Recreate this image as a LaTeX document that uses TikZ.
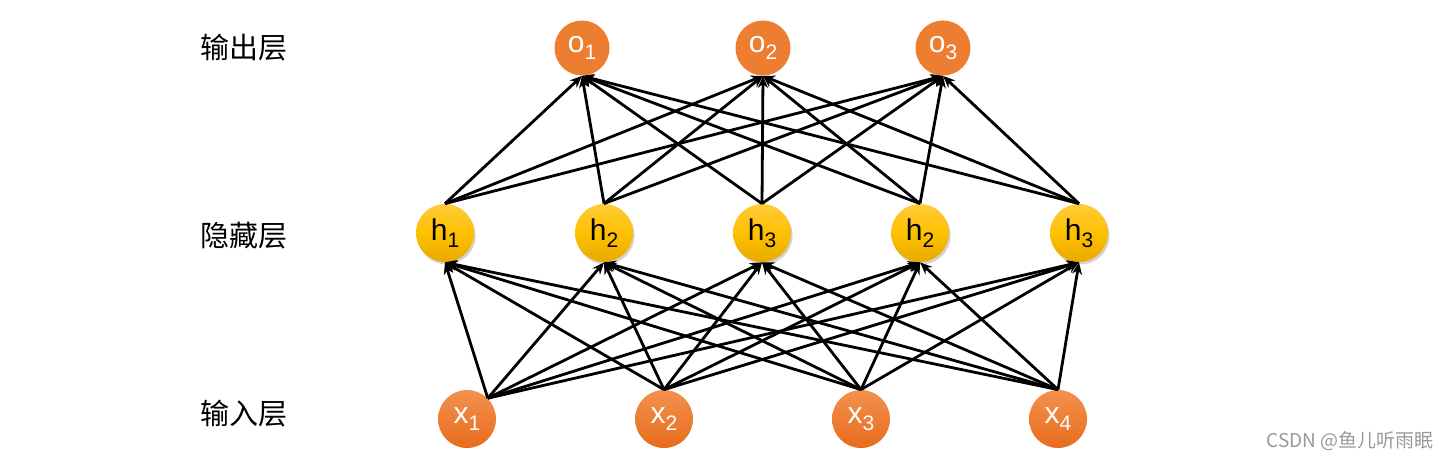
\documentclass[tikz,border=0pt]{standalone}
\usepackage{fontspec}
\setmainfont{Liberation Sans}
\newfontfamily\cjk{Noto Sans CJK SC}
\usetikzlibrary{arrows.meta,shadows}
\definecolor{outorange}{HTML}{ED7D31}
\definecolor{intop}{HTML}{F3914F}
\definecolor{inbot}{HTML}{E76C1C}
\definecolor{hidtop}{HTML}{FFCB3A}
\definecolor{hidmid}{HTML}{FFC000}
\definecolor{hidbot}{HTML}{E8AA00}
\newcommand{\lsub}[1]{\raisebox{-0.45ex}{\fontsize{10.5}{12}\selectfont #1}}
\begin{document}
\begin{tikzpicture}[x=0.5pt,y=-0.5pt,
  outnode/.style={circle, fill=outorange, text=white, minimum size=27.5pt, inner sep=0pt, font=\fontsize{15}{17}\selectfont},
  hidnode/.style={circle, top color=hidtop, bottom color=hidbot, middle color=hidmid, minimum size=29pt, inner sep=0pt,
    drop shadow={opacity=0.35, shadow xshift=0.8pt, shadow yshift=-1.2pt}, font=\fontsize{15}{17}\selectfont},
  innode/.style={circle, top color=intop, bottom color=inbot, text=white, minimum size=29pt, inner sep=0pt, font=\fontsize{15}{17}\selectfont},
  layer/.style={font=\cjk\fontsize{14.5}{16}\selectfont},
  conn/.style={-{Stealth[length=6pt,width=5pt]}, line width=1.4pt}]
\useasboundingbox (0,0) rectangle (1451,460);
% layer names
\node[layer] (lout) at (244,48) {输出层};
\node[layer] (lhid) at (244,236) {隐藏层};
\node[layer] (lin) at (244,414) {输入层};
% output layer
\node[outnode] (o1) at (582,48) {o\lsub{1}};
\node[outnode] (o2) at (763,48) {o\lsub{2}};
\node[outnode] (o3) at (943,48) {o\lsub{3}};
% hidden layer
\node[hidnode] (h1) at (445,233) {h\lsub{1}};
\node[hidnode] (h2) at (604,233) {h\lsub{2}};
\node[hidnode] (h3) at (762,233) {h\lsub{3}};
\node[hidnode] (h4) at (920,233) {h\lsub{2}};
\node[hidnode] (h5) at (1079,233) {h\lsub{3}};
% input layer
\node[innode] (x1) at (467,419) {x\lsub{1}};
\node[innode] (x2) at (664,419) {x\lsub{2}};
\node[innode] (x3) at (861,419) {x\lsub{3}};
\node[innode] (x4) at (1058,419) {x\lsub{4}};
% input -> hidden
\draw[conn] (x1.45)--(h1.south);
\draw[conn] (x1.45)--(h2.south);
\draw[conn] (x1.45)--(h3.south);
\draw[conn] (x1.45)--(h4.south);
\draw[conn] (x1.45)--(h5.south);
\draw[conn] (x2.north)--(h1.south);
\draw[conn] (x2.north)--(h2.south);
\draw[conn] (x2.north)--(h3.south);
\draw[conn] (x2.north)--(h4.south);
\draw[conn] (x2.north)--(h5.south);
\draw[conn] (x3.north)--(h1.south);
\draw[conn] (x3.north)--(h2.south);
\draw[conn] (x3.north)--(h3.south);
\draw[conn] (x3.north)--(h4.south);
\draw[conn] (x3.north)--(h5.south);
\draw[conn] (x4.north)--(h1.south);
\draw[conn] (x4.north)--(h2.south);
\draw[conn] (x4.north)--(h3.south);
\draw[conn] (x4.north)--(h4.south);
\draw[conn] (x4.north)--(h5.south);
% hidden -> output
\draw[conn] (h1.north)--(o1.south);
\draw[conn] (h1.north)--(o2.south);
\draw[conn] (h1.north)--(o3.south);
\draw[conn] (h2.north)--(o1.south);
\draw[conn] (h2.north)--(o2.south);
\draw[conn] (h2.north)--(o3.south);
\draw[conn] (h3.north)--(o1.south);
\draw[conn] (h3.north)--(o2.south);
\draw[conn] (h3.north)--(o3.south);
\draw[conn] (h4.north)--(o1.south);
\draw[conn] (h4.north)--(o2.south);
\draw[conn] (h4.north)--(o3.south);
\draw[conn] (h5.north)--(o1.south);
\draw[conn] (h5.north)--(o2.south);
\draw[conn] (h5.north)--(o3.south);
\node[font=\cjk\fontsize{9.5}{10}\selectfont, text=black!40] (mark) at (1350,441) {CSDN @鱼儿听雨眠};
\end{tikzpicture}
\end{document}
